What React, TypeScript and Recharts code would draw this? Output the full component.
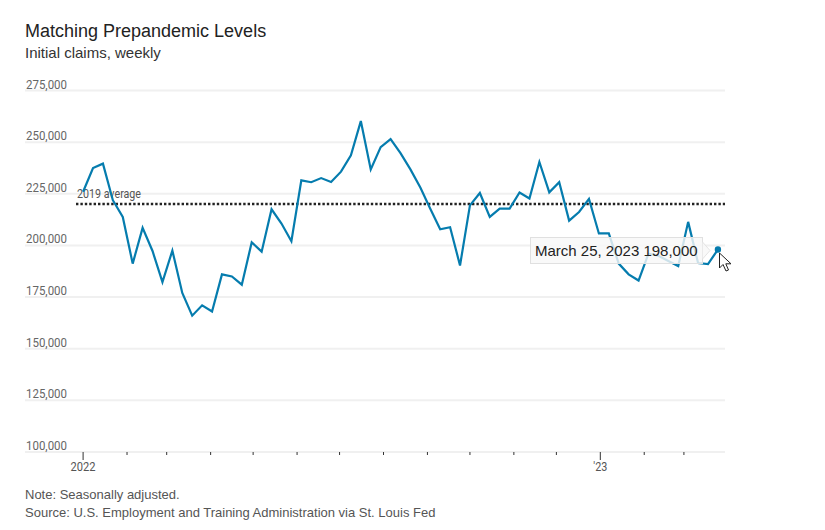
import React from 'react'
import { LineChart, Line, XAxis, YAxis, CartesianGrid, ReferenceLine, Tooltip } from 'recharts'

const DAY = 86400000
const START = Date.UTC(2022, 0, 1)

const claims = [
  226, 237.5, 239.6, 221.9, 213.8, 191.2, 208.5, 197.3, 182.2, 197.5, 177, 166, 171,
  168, 186, 185, 181, 201.5, 197, 217.5, 210.6, 202, 231.5, 230.6, 232.6, 230.7, 235.7,
  243.6, 260.2, 236.8, 247.6, 251.5, 244.7, 236.8, 228, 217.8, 207.8, 208.8, 190.3,
  219.4, 225.4, 213.8, 217.8, 217.8, 225.6, 222.7, 240.4, 225.7, 230.6, 212, 216.2,
  222.5, 205.8, 205.8, 191.2, 186, 183, 196, 195, 192.5, 190, 211.4, 191.5, 191, 198,
]
const yTicks = [100000, 125000, 150000, 175000, 200000, 225000, 250000, 275000]
const monthTicks = [
  Date.UTC(2022, 0, 1), Date.UTC(2022, 1, 1), Date.UTC(2022, 2, 1), Date.UTC(2022, 3, 1),
  Date.UTC(2022, 4, 1), Date.UTC(2022, 5, 1), Date.UTC(2022, 6, 1), Date.UTC(2022, 7, 1),
  Date.UTC(2022, 8, 1), Date.UTC(2022, 9, 1), Date.UTC(2022, 10, 1), Date.UTC(2022, 11, 1),
  Date.UTC(2023, 0, 1), Date.UTC(2023, 1, 1), Date.UTC(2023, 2, 1),
]
const yearLabels: Record<number, string> = {
  [Date.UTC(2022, 0, 1)]: '2022',
  [Date.UTC(2023, 0, 1)]: "'23",
}
const AVERAGE = 220000

const data = claims.map((v, i) => ({ date: START + i * 7 * DAY, value: v * 1000 }))

const LINE_COLOR = '#057cae'
const SANS = '"Liberation Sans", Arial, sans-serif'
const NARROW = 'Roboto, sans-serif'

const XTick = (props: any) => {
  const { x, y, payload } = props
  const label = yearLabels[payload.value]
  const top = y - 8
  return (
    <g>
      <line x1={x} x2={x} y1={top} y2={top + (label ? 8 : 3)} stroke="#333" strokeWidth={1} />
      {label && (
        <text
          x={x}
          y={top + 19}
          textAnchor="middle"
          fontSize={13}
          fontFamily={NARROW}
          fill="#555"
          textLength={label.length > 3 ? 25 : 14}
          lengthAdjust="spacingAndGlyphs"
        >
          {label}
        </text>
      )}
    </g>
  )
}

const YTick = (props: any) => {
  const { y, payload } = props
  return (
    <text x={26} y={y - 2} fontSize={13} fontFamily={NARROW} fill="#666" textLength={41} lengthAdjust="spacingAndGlyphs">
      {payload.value.toLocaleString('en-US')}
    </text>
  )
}

const AverageLabel = (props: any) => {
  const { viewBox } = props
  return (
    <text x={viewBox.x + 1} y={viewBox.y - 6} fontSize={13} fontFamily={NARROW} fill="#555" textLength={64} lengthAdjust="spacingAndGlyphs">
      2019 average
    </text>
  )
}

const TipBox = ({ payload }: any) => {
  if (!payload || !payload.length) return null
  const row = payload[0].payload
  const label = new Date(row.date).toLocaleDateString('en-US', {
    month: 'long', day: 'numeric', year: 'numeric', timeZone: 'UTC',
  })
  return (
    <div style={{ position: 'relative', width: 173, height: 27 }}>
      <div style={{
        boxSizing: 'border-box', width: 173, height: 27, background: 'rgba(248,248,248,0.82)',
        border: '1px solid #e0e0e0', fontFamily: SANS, fontSize: 15, lineHeight: '25px',
        paddingLeft: 4, color: '#222', whiteSpace: 'nowrap',
      }}>
        {label} {row.value.toLocaleString('en-US')}
      </div>
      <svg width={12} height={20} style={{ position: 'absolute', left: 172, top: 4 }}>
        <path d="M0.5 1 L8 9.5 L0.5 18" fill="rgba(248,248,248,0.82)" stroke="#e4e4e4" />
      </svg>
      {/* mouse pointer left on the last point */}
      <svg width={16} height={22} style={{ position: 'absolute', left: 188, top: 15 }}>
        <path d="M1.5 1 L1.5 16 L5 12.5 L8 19 L10.5 18 L7.8 11.8 L13 11.8 Z" fill="#fff" stroke="#222" strokeWidth={1} />
      </svg>
    </div>
  )
}

export default function App() {
  return (
    <div style={{ position: 'absolute', left: 0, top: 0, width: 825, height: 530, background: '#fff', overflow: 'hidden' }}>
      <div style={{ position: 'absolute', left: 25, top: 21, fontFamily: SANS, fontSize: 18, color: '#222', whiteSpace: 'nowrap' }}>
        Matching Prepandemic Levels
      </div>
      <div style={{ position: 'absolute', left: 25, top: 44, fontFamily: SANS, fontSize: 15, color: '#333', whiteSpace: 'nowrap' }}>
        Initial claims, weekly
      </div>
      <div style={{ position: 'absolute', left: 0, top: 0 }}>
        <LineChart width={825} height={530} data={data} margin={{ top: 90.5, right: 100, bottom: 48, left: 24 }}>
          <CartesianGrid vertical={false} stroke="#f0f0f0" strokeWidth={2} />
          <XAxis
            dataKey="date"
            type="number"
            scale="linear"
            domain={[START - 41 * DAY, Date.UTC(2023, 2, 25) + 5 * DAY]}
            ticks={monthTicks}
            interval={0}
            height={30}
            axisLine={false}
            tickLine={false}
            tick={<XTick />}
          />
          <YAxis
            type="number"
            domain={[100000, 275000]}
            ticks={yTicks}
            width={1}
            interval={0}
            axisLine={false}
            tickLine={false}
            tick={<YTick />}
          />
          <ReferenceLine
            segment={[
              { x: START - 5 * DAY, y: AVERAGE },
              { x: Date.UTC(2023, 2, 25) + 5 * DAY, y: AVERAGE },
            ]}
            stroke="#222"
            strokeWidth={2.5}
            strokeDasharray="2.4 2"
            label={<AverageLabel />}
          />
          <Line
            dataKey="value"
            stroke={LINE_COLOR}
            strokeWidth={2.2}
            dot={false}
            activeDot={{ r: 2.2, fill: LINE_COLOR, stroke: LINE_COLOR }}
            isAnimationActive={false}
          />
          <Tooltip
            defaultIndex={64}
            cursor={false}
            position={{ x: 530, y: 237 }}
            isAnimationActive={false}
            content={<TipBox />}
          />
        </LineChart>
      </div>
      <div style={{ position: 'absolute', left: 25, top: 487, fontFamily: SANS, fontSize: 13, color: '#555', whiteSpace: 'nowrap' }}>
        Note: Seasonally adjusted.
      </div>
      <div style={{ position: 'absolute', left: 25, top: 505, fontFamily: SANS, fontSize: 13, color: '#555', whiteSpace: 'nowrap' }}>
        Source: U.S. Employment and Training Administration via St. Louis Fed
      </div>
    </div>
  )
}
